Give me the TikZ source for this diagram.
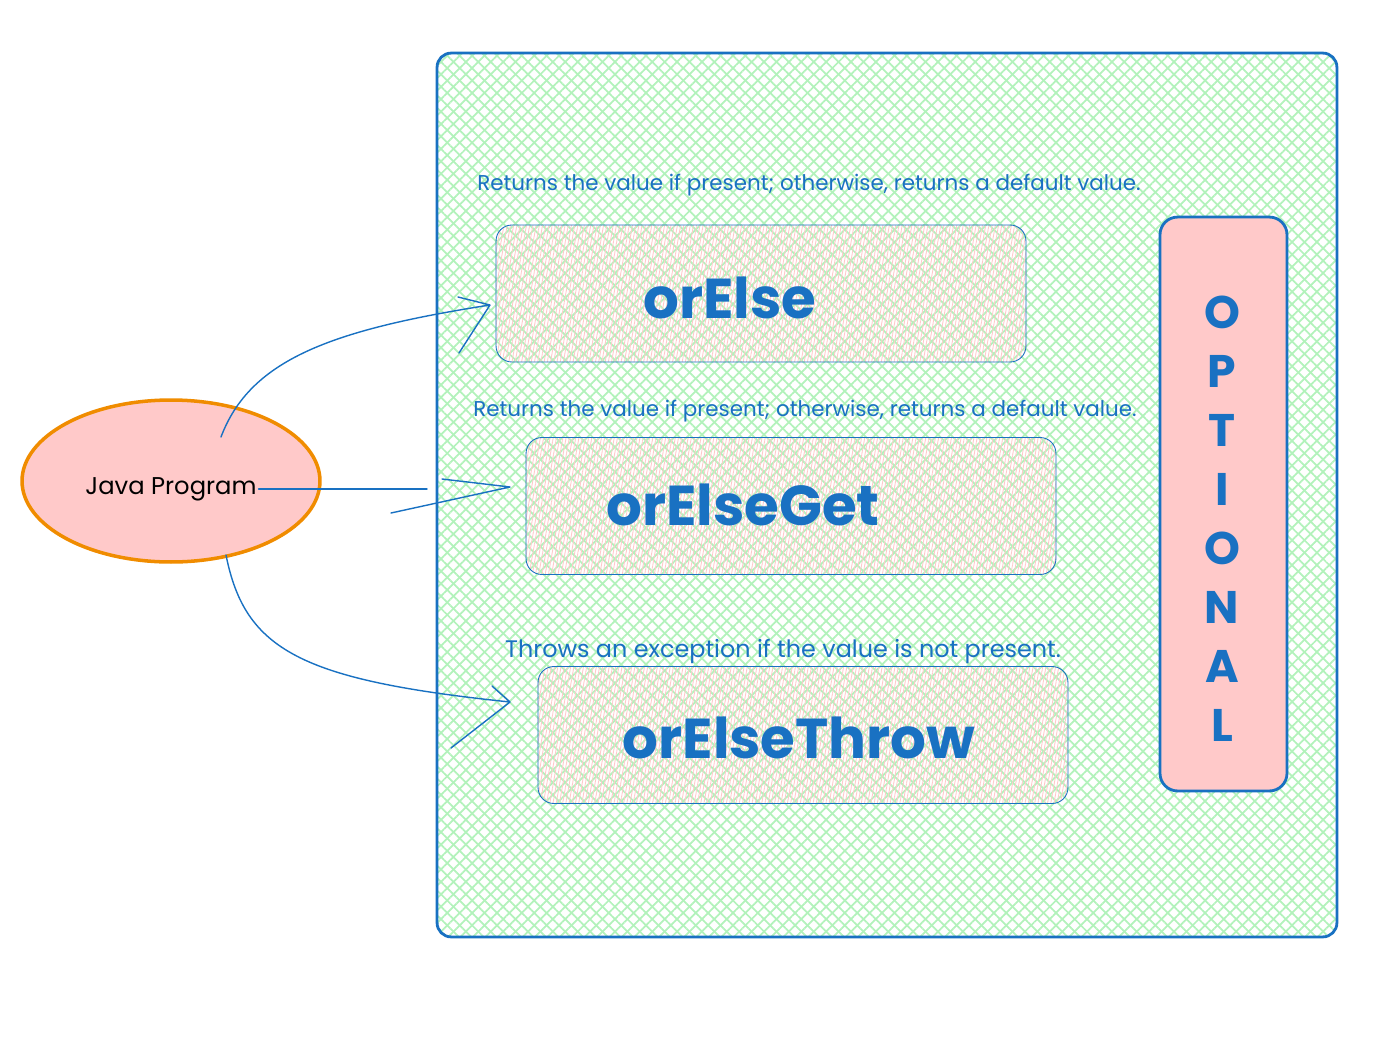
\documentclass[tikz,border=0pt]{standalone}
\usepackage{fontspec}
\setmainfont{Poppins}
\usetikzlibrary{shapes.geometric,positioning,patterns.meta,calc}

\definecolor{penblue}{HTML}{1971C2}
\definecolor{hatchgreen}{HTML}{B2F2BB}
\definecolor{softpink}{HTML}{FFC9C9}
\definecolor{penorange}{HTML}{F08C00}

\begin{document}
\begin{tikzpicture}[
        x=0.02cm, y=-0.02cm,
        frame/.style={rectangle, draw=penblue, line width=1.6pt, rounded corners=8pt, minimum width=18cm, minimum height=17.68cm,
            preaction={pattern={Lines[angle=45,distance=5pt,line width=1pt]}, pattern color=hatchgreen},
            pattern={Lines[angle=-45,distance=5pt,line width=1pt]}, pattern color=hatchgreen},
        methodbox/.style={rectangle, draw=penblue, line width=0.5pt, rounded corners=9pt, minimum width=10.6cm, minimum height=2.74cm,
            pattern={Lines[angle=80,distance=1.8pt,line width=0.5pt]}, pattern color=softpink},
        optbox/.style={rectangle, draw=penblue, line width=1.6pt, fill=softpink, rounded corners=10pt, minimum width=2.54cm, minimum height=11.48cm},
        program/.style={ellipse, draw=penorange, line width=2pt, fill=softpink, minimum width=5.96cm, minimum height=3.24cm},
        methodname/.style={text=penblue, font=\fontsize{32}{36}\selectfont\bfseries},
        hint/.style={text=penblue, font=\fontsize{12.2}{14}\selectfont},
        optletter/.style={text=penblue, font=\fontsize{26}{30}\selectfont\bfseries},
        link/.style={draw=penblue, line width=0.8pt, line cap=round, line join=round}
    ]
    \useasboundingbox (0,0) rectangle (1400,1062);

    % container
    \node[frame] (optional) at (887,495) {};
    \node[optbox] (optlabel) at (1223.5,504) {};
    \foreach \ch [count=\i] in {O,P,T,I,O,N,A,L}
        \node[optletter] (opt-\i) at (1222,253+59*\i) {\ch};

    % methods
    \node[hint] (hint1) at (809,185) {Returns the value if present; otherwise, returns a default value.};
    \node[methodbox] (orelse) at (761,293.5) {};
    \node[methodname] (orelse-txt) at (730,298) {orElse};

    \node[hint] (hint2) at (805,411) {Returns the value if present; otherwise, returns a default value.};
    \node[methodbox] (orelseget) at (791,506) {};
    \node[methodname] (orelseget-txt) at (743,505) {orElseGet};

    \node[hint, font=\fontsize{13.6}{16}\selectfont] (hint3) at (783,651) {Throws an exception if the value is not present.};
    \node[methodbox] (orelsethrow) at (803,735) {};
    \node[methodname] (orelsethrow-txt) at (799,738) {orElseThrow};

    % caller
    \node[program] (java) at (171,481) {};
    \node[font=\fontsize{13.8}{16}\selectfont, inner sep=1pt] (java-txt) at (171,489) {Java Program};

    \coordinate (from1) at (221,437);
    \coordinate (from3) at (226,555);
    \coordinate (gap2) at (427,491);
    \coordinate (tip1) at (490,305);
    \coordinate (tip2) at (510,487);
    \coordinate (tip3) at (510,702);

    \draw[link] (from1) .. controls (250,360) and (330,330) .. (tip1) -- ++(-32,-8) (tip1) -- ++(-31,48);
    \draw[link] (java-txt.east) -- (java-txt.east -| gap2);
    \draw[link] (tip2) -- ++(-68,-8) (tip2) -- ++(-119,26);
    \draw[link] (from3) .. controls (245,650) and (300,680) .. (tip3) -- ++(-18,-16) (tip3) -- ++(-59,46);

\end{tikzpicture}
\end{document}
